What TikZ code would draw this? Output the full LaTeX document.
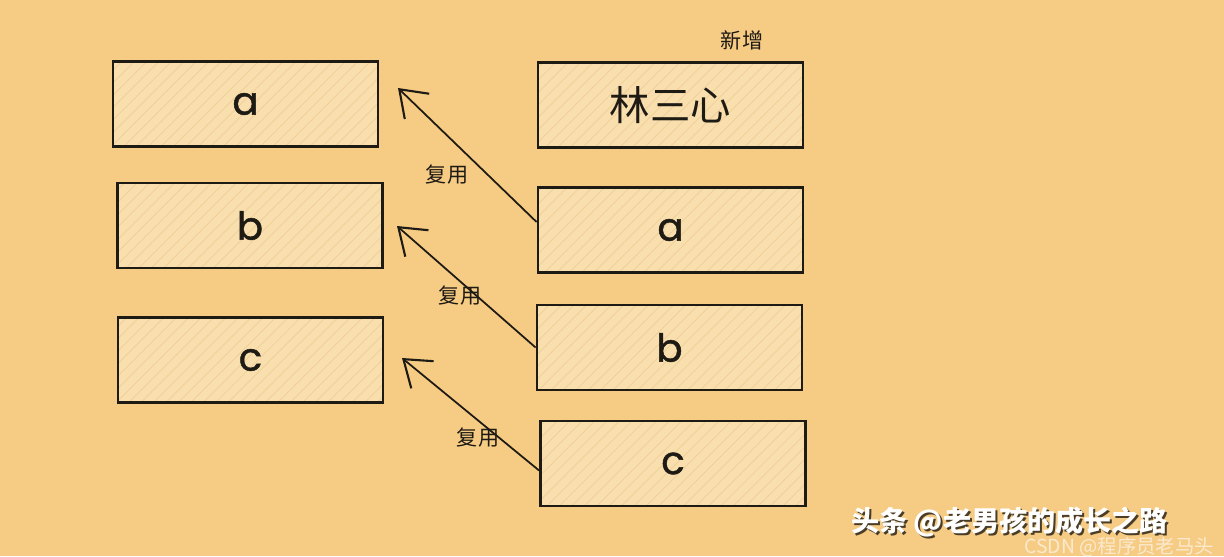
\documentclass[tikz,border=0pt]{standalone}
\usepackage{fontspec}
\setmainfont{Poppins}
\newfontfamily\hand{Poppins}[FakeBold=1.2]
\newfontfamily\cjk{Noto Sans CJK SC}
\usetikzlibrary{arrows.meta,patterns.meta}
\definecolor{bg}{HTML}{F6CB84}
\definecolor{boxfill}{HTML}{FADFAE}
\definecolor{hatch}{HTML}{F0D09A}
\definecolor{ink}{HTML}{1E1A14}
\tikzset{
  blk/.style={draw=ink, line width=1.6pt, minimum width=265*0.02cm, minimum height=85*0.02cm, inner sep=0pt,
    preaction={fill=boxfill},
    preaction={pattern={Lines[angle=45,distance=5pt,line width=0.5pt]}, pattern color=hatch}},
  letter/.style={font=\hand\fontsize{22}{24}\selectfont, text=ink},
  reuse/.style={draw=ink, line width=1pt, -{Straight Barb[length=14pt,width=20pt,line width=1.2pt]}},
  lbl/.style={font=\cjk\fontsize{12}{14}\selectfont, text=ink},
  wm/.style={font=\cjk\bfseries\fontsize{16}{18}\selectfont, anchor=west},
}
\begin{document}
\begin{tikzpicture}[x=0.02cm,y=-0.02cm]
\useasboundingbox[fill=bg] (0,0) rectangle (1224,556);
% left column
\node[blk] (la) at (245.5,104) {};
\node[letter] at (la) {a};
\node[blk] (lb) at (250,225.5) {};
\node[letter] at (lb) {b};
\node[blk] (lc) at (250.5,360) {};
\node[letter] at (lc) {c};
% right column
\node[blk] (rn) at (670.5,105) {};
\node[font=\cjk\fontsize{23}{26}\selectfont, text=ink] at (rn) {林三心};
\node[lbl] (new) at (742,40) {新增};
\node[blk] (ra) at (670.5,230) {};
\node[letter] at (ra) {a};
\node[blk] (rb) at (669.5,347.5) {};
\node[letter] at (rb) {b};
\node[blk] (rc) at (673,463.5) {};
\node[letter] at (rc) {c};
% arrows
\coordinate (ta) at (398,88);
\coordinate (tb) at (397,226);
\coordinate (tc) at (402,358);
\draw[reuse] (ra.west) ++(0,-8) -- (ta);
\draw[reuse] (rb.west) -- (tb);
\draw[reuse] (rc.west) ++(0,7) -- (tc);
\node[lbl] (l1) at (447,175) {复用};
\node[lbl] (l2) at (460,296) {复用};
\node[lbl] (l3) at (478,438) {复用};
% watermarks
\node[font=\cjk\fontsize{11}{13}\selectfont, text=white!60!bg, anchor=east] (wm2) at (1220,547) {CSDN @程序员老马头};
\node[wm, text=black!70!bg] (wm1s) at (847,524) {头条 @老男孩的成长之路};
\node[wm, text=white] (wm1) at (845,522) {头条 @老男孩的成长之路};
\end{tikzpicture}
\end{document}
